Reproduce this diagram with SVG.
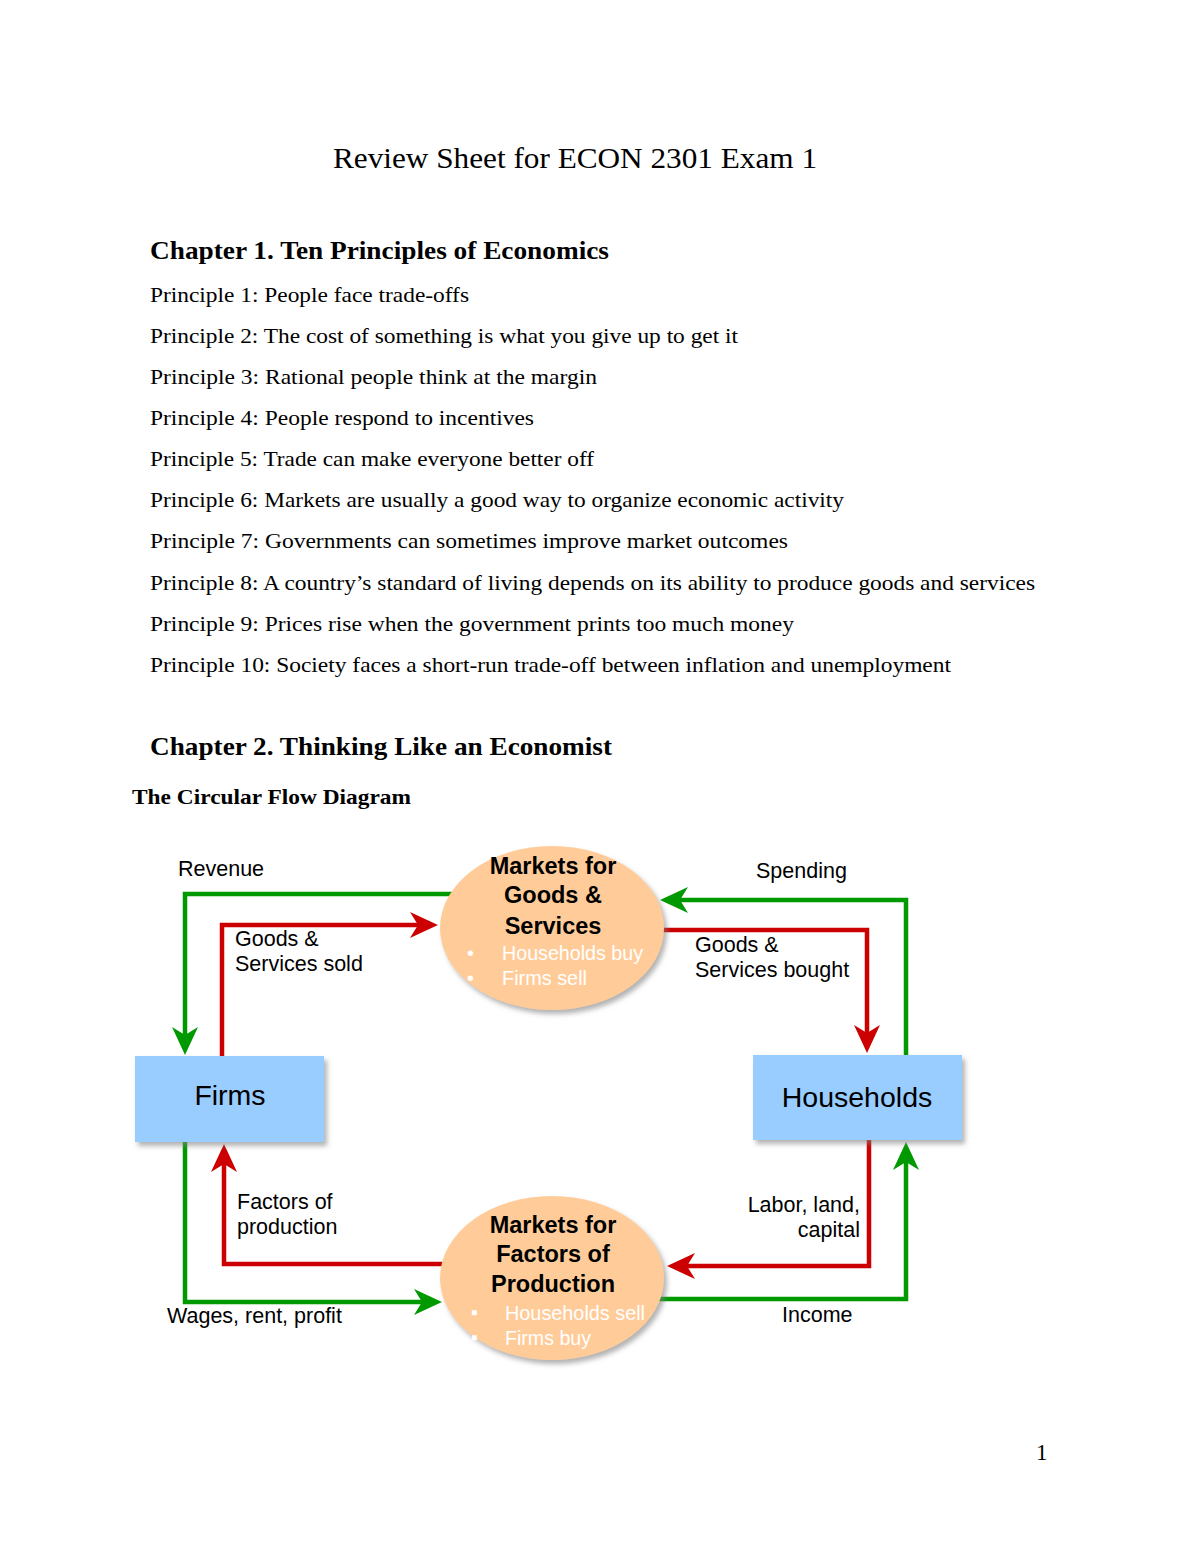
<svg xmlns="http://www.w3.org/2000/svg" width="1200" height="1553" viewBox="0 0 1200 1553">
<defs>
<style>
.serif{font-family:"Liberation Serif","Times New Roman",serif;fill:#000}
.pr{font-size:21.5px}
.h{font-weight:bold;font-size:25px}
.lbl{font-family:"Liberation Sans",Arial,sans-serif;font-size:21.5px;fill:#000}
.mk{font-family:"Liberation Sans",Arial,sans-serif;font-size:23.5px;font-weight:bold;fill:#000;text-anchor:middle}
.bul{font-family:"Liberation Sans",Arial,sans-serif;font-size:19.5px;fill:#fff}
.box{fill:#99CCFF}
.ell{fill:#FFCC99}
.red{fill:none;stroke:#CC0000;stroke-width:4.5;stroke-linejoin:miter}
.green{fill:none;stroke:#009900;stroke-width:4.5;stroke-linejoin:miter}
.nodetxt{font-family:"Liberation Sans",Arial,sans-serif;font-size:28.5px;fill:#000;text-anchor:middle}
</style>
<filter id="sh" x="-20%" y="-20%" width="150%" height="150%">
<feDropShadow dx="3" dy="4" stdDeviation="2.5" flood-color="#808080" flood-opacity="0.6"/>
</filter>
<marker id="ar" viewBox="-20 -14 32 28" refX="0" refY="0" markerWidth="32" markerHeight="28" markerUnits="userSpaceOnUse" orient="auto">
<path d="M11,0 L-17,-13 L-9,0 L-17,13 Z" fill="#CC0000"/>
</marker>
<marker id="ag" viewBox="-20 -14 32 28" refX="0" refY="0" markerWidth="32" markerHeight="28" markerUnits="userSpaceOnUse" orient="auto">
<path d="M11,0 L-17,-13 L-9,0 L-17,13 Z" fill="#009900"/>
</marker>
</defs>
<rect width="1200" height="1553" fill="#fff"/>

<g id="page-text">
<text class="serif" x="333" y="168" font-size="29" textLength="484" lengthAdjust="spacingAndGlyphs">Review Sheet for ECON 2301 Exam 1</text>
<text class="serif h" x="150" y="259" textLength="459" lengthAdjust="spacingAndGlyphs">Chapter 1. Ten Principles of Economics</text>
<text class="serif pr" x="150" y="302" textLength="319" lengthAdjust="spacingAndGlyphs">Principle 1: People face trade-offs</text>
<text class="serif pr" x="150" y="343" textLength="588" lengthAdjust="spacingAndGlyphs">Principle 2: The cost of something is what you give up to get it</text>
<text class="serif pr" x="150" y="384" textLength="447" lengthAdjust="spacingAndGlyphs">Principle 3: Rational people think at the margin</text>
<text class="serif pr" x="150" y="425" textLength="384" lengthAdjust="spacingAndGlyphs">Principle 4: People respond to incentives</text>
<text class="serif pr" x="150" y="466" textLength="444" lengthAdjust="spacingAndGlyphs">Principle 5: Trade can make everyone better off</text>
<text class="serif pr" x="150" y="507" textLength="694" lengthAdjust="spacingAndGlyphs">Principle 6: Markets are usually a good way to organize economic activity</text>
<text class="serif pr" x="150" y="548" textLength="638" lengthAdjust="spacingAndGlyphs">Principle 7: Governments can sometimes improve market outcomes</text>
<text class="serif pr" x="150" y="590" textLength="885" lengthAdjust="spacingAndGlyphs">Principle 8: A country’s standard of living depends on its ability to produce goods and services</text>
<text class="serif pr" x="150" y="631" textLength="644" lengthAdjust="spacingAndGlyphs">Principle 9: Prices rise when the government prints too much money</text>
<text class="serif pr" x="150" y="672" textLength="801" lengthAdjust="spacingAndGlyphs">Principle 10: Society faces a short-run trade-off between inflation and unemployment</text>
<text class="serif h" x="150" y="755" textLength="462" lengthAdjust="spacingAndGlyphs">Chapter 2. Thinking Like an Economist</text>
<text class="serif" x="132" y="804" font-size="21.5" font-weight="bold" textLength="279" lengthAdjust="spacingAndGlyphs">The Circular Flow Diagram</text>
<text class="serif" x="1036" y="1460" font-size="23">1</text>
</g>

<g id="connectors">
<path class="green" d="M455,894 H185 V1044" marker-end="url(#ag)"/>
<path class="red" d="M222,1056 V925 H427" marker-end="url(#ar)"/>
<path class="green" d="M906,1055 V900 H671" marker-end="url(#ag)"/>
<path class="red" d="M650,930 H867 V1042" marker-end="url(#ar)"/>
<path class="red" d="M869,1140 V1266 H678" marker-end="url(#ar)"/>
<path class="green" d="M652,1299 H906 V1153" marker-end="url(#ag)"/>
<path class="red" d="M452,1264 H224 V1155" marker-end="url(#ar)"/>
<path class="green" d="M185,1142 V1302 H431" marker-end="url(#ag)"/>
</g>

<g id="label-revenue"><text class="lbl" x="178" y="876">Revenue</text></g>
<g id="label-goods-sold"><text class="lbl" x="235" y="946">Goods &amp;</text><text class="lbl" x="235" y="971">Services sold</text></g>
<g id="label-spending"><text class="lbl" x="756" y="878">Spending</text></g>
<g id="label-goods-bought"><text class="lbl" x="695" y="952">Goods &amp;</text><text class="lbl" x="695" y="977">Services bought</text></g>
<g id="label-factors"><text class="lbl" x="237" y="1209">Factors of</text><text class="lbl" x="237" y="1234">production</text></g>
<g id="label-wages"><text class="lbl" x="167" y="1323">Wages, rent, profit</text></g>
<g id="label-labor"><text class="lbl" x="860" y="1212" text-anchor="end">Labor, land,</text><text class="lbl" x="860" y="1237" text-anchor="end">capital</text></g>
<g id="label-income"><text class="lbl" x="782" y="1322">Income</text></g>

<g id="node-firms">
<rect class="box" x="135" y="1056" width="189" height="86" filter="url(#sh)"/>
<text class="nodetxt" x="230" y="1105">Firms</text>
</g>
<g id="node-households">
<rect class="box" x="753" y="1055" width="209" height="85" filter="url(#sh)"/>
<text class="nodetxt" x="857" y="1107">Households</text>
</g>

<g id="node-goods-market">
<ellipse class="ell" cx="552" cy="928" rx="112" ry="82" filter="url(#sh)"/>
<text class="mk" x="553" y="874">Markets for</text>
<text class="mk" x="553" y="903">Goods &amp;</text>
<text class="mk" x="553" y="934">Services</text>
<text class="bul" x="467" y="960">•</text>
<text class="bul" x="502" y="960" textLength="141" lengthAdjust="spacingAndGlyphs">Households buy</text>
<text class="bul" x="467" y="985">•</text>
<text class="bul" x="502" y="985" textLength="85" lengthAdjust="spacingAndGlyphs">Firms sell</text>
</g>

<g id="node-factor-market">
<ellipse class="ell" cx="552" cy="1278" rx="112" ry="82" filter="url(#sh)"/>
<text class="mk" x="553" y="1233">Markets for</text>
<text class="mk" x="553" y="1262">Factors of</text>
<text class="mk" x="553" y="1292">Production</text>
<text class="bul" x="471" y="1319">▪</text>
<text class="bul" x="505" y="1320" textLength="140" lengthAdjust="spacingAndGlyphs">Households sell</text>
<text class="bul" x="471" y="1344">▪</text>
<text class="bul" x="505" y="1345" textLength="86" lengthAdjust="spacingAndGlyphs">Firms buy</text>
</g>
</svg>
